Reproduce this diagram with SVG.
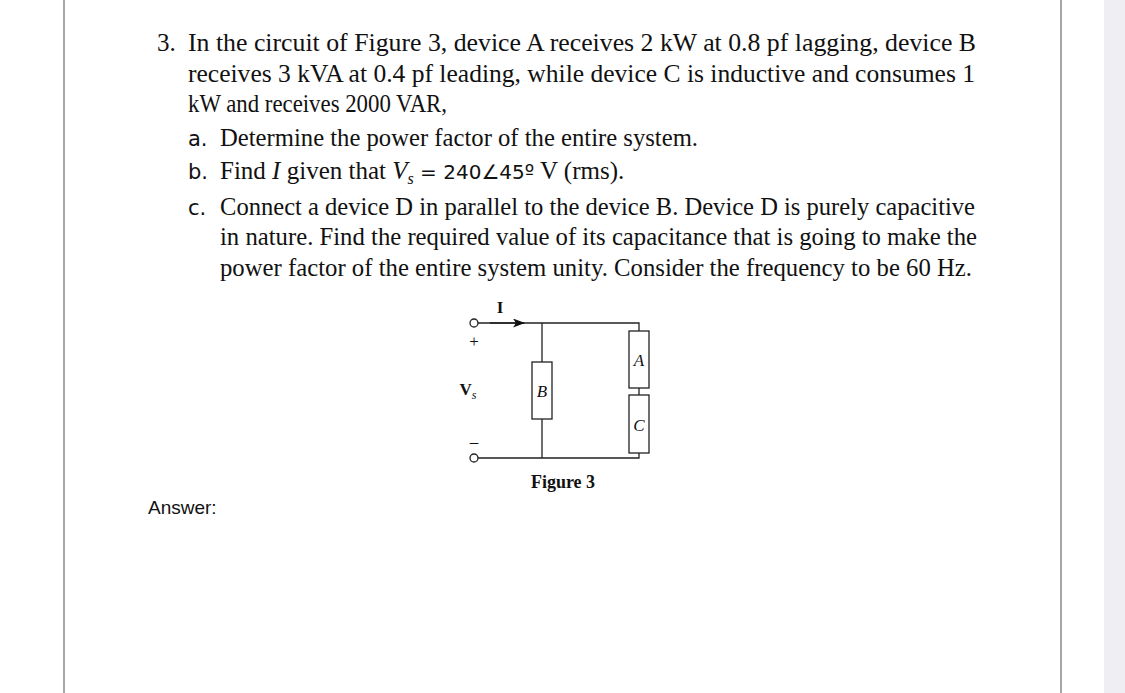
<svg xmlns="http://www.w3.org/2000/svg" width="1125" height="693" viewBox="0 0 1125 693">
<style>
.t{font-family:"Liberation Serif",serif;font-size:25px;fill:#111}
.l{font-family:"DejaVu Sans",sans-serif;font-size:21px;fill:#111}
.w{stroke:#222;stroke-width:1.3;fill:none}
.bx{stroke:#222;stroke-width:1.3;fill:#fff}
.c{font-family:"Liberation Serif",serif;font-size:17px;fill:#111}
</style>
<defs><marker id="ar" markerWidth="12" markerHeight="9" refX="11" refY="4.5" orient="auto" markerUnits="userSpaceOnUse"><path d="M0,0 L12,4.5 L0,9 L3,4.5 Z" fill="#111"/></marker></defs>
<rect width="1125" height="693" fill="#fff"/>
<rect x="1104" y="0" width="21" height="693" fill="#eeeef3"/>
<line x1="64" y1="0" x2="64" y2="693" stroke="#888" stroke-width="1.5"/>
<line x1="1061" y1="0" x2="1061" y2="693" stroke="#888" stroke-width="1.5"/>
<text class="t" x="157" y="51">3.</text>
<text class="t" x="188" y="51" textLength="788" lengthAdjust="spacingAndGlyphs">In the circuit of Figure 3, device A receives 2 kW at 0.8 pf lagging, device B</text>
<text class="t" x="188" y="82" textLength="787" lengthAdjust="spacingAndGlyphs">receives 3 kVA at 0.4 pf leading, while device C is inductive and consumes 1</text>
<text class="t" x="188" y="112" textLength="259" lengthAdjust="spacingAndGlyphs">kW and receives 2000 VAR,</text>
<text class="l" x="188" y="146">a.</text>
<text class="t" x="220" y="146" textLength="478" lengthAdjust="spacingAndGlyphs">Determine the power factor of the entire system.</text>
<text class="l" x="188" y="179">b.</text>
<text class="t" x="220" y="179">Find <tspan font-style="italic">I</tspan> given that <tspan font-style="italic">V</tspan><tspan font-style="italic" font-size="16" dy="5">s</tspan><tspan dy="-5" font-family="DejaVu Sans,sans-serif" font-size="20"> = 240∠45º</tspan><tspan> V (rms).</tspan></text>
<text class="l" x="188" y="215">c.</text>
<text class="t" x="220" y="215" textLength="755" lengthAdjust="spacingAndGlyphs">Connect a device D in parallel to the device B. Device D is purely capacitive</text>
<text class="t" x="220" y="245" textLength="757" lengthAdjust="spacingAndGlyphs">in nature. Find the required value of its capacitance that is going to make the</text>
<text class="t" x="220" y="276" textLength="752" lengthAdjust="spacingAndGlyphs">power factor of the entire system unity. Consider the frequency to be 60 Hz.</text>
<text x="148" y="514" font-family="Liberation Sans,sans-serif" font-size="19" fill="#111">Answer:</text>
<g id="connectors">
<path class="w" d="M478,323 H639 V331 M639,388 V395 M639,453 V458 H478 M542,323 V362 M542,419 V458"/>
<line class="w" x1="490" y1="323" x2="524" y2="323" marker-end="url(#ar)"/>
</g>
<g id="terminal-top"><circle class="bx" cx="474" cy="323" r="4"/></g>
<g id="terminal-bottom"><circle class="bx" cx="474" cy="458" r="4"/></g>
<g id="B"><rect class="bx" x="532" y="362" width="20" height="57"/><text class="c" x="542" y="397" text-anchor="middle" font-style="italic">B</text></g>
<g id="A"><rect class="bx" x="629" y="331" width="20" height="57"/><text class="c" x="639" y="366" text-anchor="middle" font-style="italic">A</text></g>
<g id="C"><rect class="bx" x="629" y="395" width="20" height="58"/><text class="c" x="639" y="431" text-anchor="middle" font-style="italic">C</text></g>
<text class="c" x="500" y="313" font-weight="bold" text-anchor="middle">I</text>
<text class="c" x="474" y="347" text-anchor="middle">+</text>
<text class="c" x="468" y="395" font-weight="bold" text-anchor="middle">V<tspan font-size="12" font-style="italic" font-weight="normal" dy="4">s</tspan></text>
<text class="c" x="474" y="447" text-anchor="middle">–</text>
<text x="563" y="488" font-family="Liberation Serif,serif" font-size="18" font-weight="bold" text-anchor="middle" fill="#111">Figure 3</text>
</svg>
